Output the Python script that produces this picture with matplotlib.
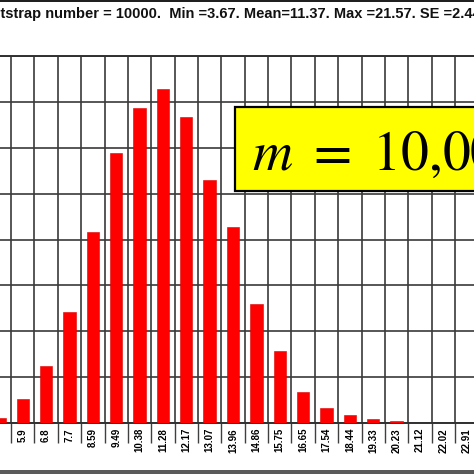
import matplotlib
matplotlib.use("Agg")
import matplotlib.pyplot as plt
from matplotlib.patches import Rectangle
import numpy as np

# ---- data ----
bin_labels = ["5.01", "5.9", "6.8", "7.7", "8.59", "9.49", "10.38", "11.28", "12.17",
              "13.07", "13.96", "14.86", "15.75", "16.65", "17.54", "18.44", "19.33",
              "20.23", "21.12", "22.02", "22.91"]
counts = [23, 105, 248, 484, 834, 1175, 1374, 1455, 1335, 1060, 854, 519, 314,
          135, 65, 35, 16, 10, 0, 0, 0]
y_ticks = [0, 200, 400, 600, 800, 1000, 1200, 1400, 1600]
title_text = "Bootstrap number = 10000.  Min =3.67. Mean=11.37. Max =21.57. SE =2.44"
box_text = r"$m\ =\ 10{,}000$"

W = H = 474
fig = plt.figure(figsize=(W / 100, H / 100), dpi=100)
fig.patch.set_facecolor("white")

def fx(px):
    return px / W

def fy(py):
    return (H - py) / H

ax_bottom, ax_top = 423, 56
ax = fig.add_axes([0, fy(ax_bottom), 1, (ax_bottom - ax_top) / H])

x = np.arange(len(counts))
ax.bar(x, counts, width=0.53, color="#ff0000", edgecolor="#e00000", linewidth=0.4, zorder=3)

ax.set_yticks(y_ticks)
ax.set_yticklabels([])
ax.tick_params(axis="y", length=0)

ax.set_xticks(x)
ax.set_xticklabels(bin_labels, rotation=90, fontsize=7, fontweight="bold",
                   family="Liberation Sans", va="top")
ax.set_xticks(np.arange(len(counts) + 1) - 0.5, minor=True)
ax.tick_params(axis="x", which="major", length=0, pad=3.6)
ax.tick_params(axis="x", which="minor", length=14.5, width=1.0, color="#404040")

ax.set_xlim(0.0287, 20.31)
ax.set_ylim(y_ticks[0], y_ticks[-1])

gc = "#3a3a3a"
ax.grid(False)
ax.yaxis.grid(True, which="major", color=gc, linewidth=1.2, zorder=0)
ax.xaxis.grid(True, which="minor", color=gc, linewidth=1.2, zorder=0)
ax.set_axisbelow(True)
for s in ["left", "right"]:
    ax.spines[s].set_visible(False)
for s in ["top", "bottom"]:
    ax.spines[s].set_color("#303030")
    ax.spines[s].set_linewidth(1.4)

# title (left part cut off as in the reference crop)
tsize = 10.5
r = fig.canvas.get_renderer()
probe = fig.text(0, 0, "Boo", fontsize=tsize, fontweight="bold", family="Liberation Sans")
wpx = probe.get_window_extent(renderer=r).width
probe.remove()
fig.text(-wpx / W, fy(18), title_text, fontsize=tsize, fontweight="bold",
         family="Liberation Sans", ha="left", va="baseline", color="#111111")

# yellow box
fig.patches.append(Rectangle((fx(235.3), fy(190.7)), fx(260), (190.7 - 107.3) / H,
                             transform=fig.transFigure, facecolor="#ffff00",
                             edgecolor="black", linewidth=1.6, zorder=5))
plt.rcParams["mathtext.fontset"] = "stix"
fig.text(fx(252), fy(170), box_text, fontsize=40, ha="left", va="baseline",
         color="black", zorder=6)

# frame bits: top dark line, bottom grey band
fig.patches.append(Rectangle((0, fy(1.5)), 1, 1.5 / H, transform=fig.transFigure,
                             facecolor="#202020", edgecolor="none", zorder=7))
fig.patches.append(Rectangle((0, 0), 1, 4 / H, transform=fig.transFigure,
                             facecolor="#5a5a5a", edgecolor="none", zorder=7))

fig.savefig("out.png", dpi=100)
